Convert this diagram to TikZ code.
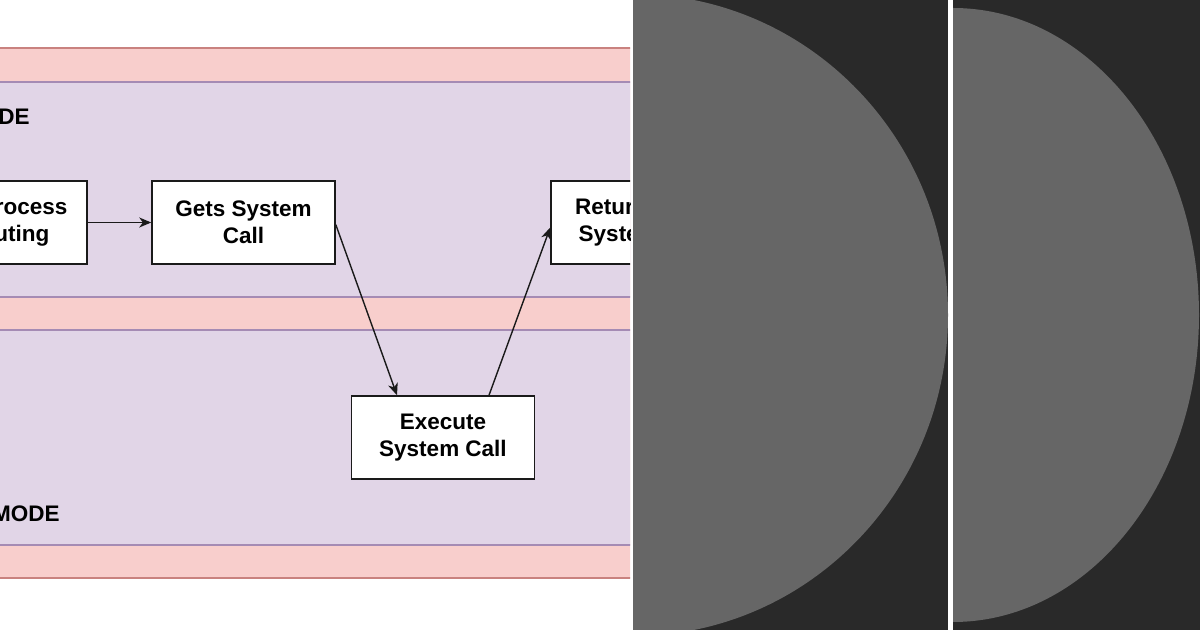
\documentclass[tikz,border=0pt]{standalone}
\usepackage{fontspec}
\setmainfont{Liberation Sans}
\usetikzlibrary{arrows.meta,calc}
\definecolor{pinkfill}{HTML}{F8CECC}
\definecolor{pinkline}{HTML}{C9827F}
\definecolor{purpfill}{HTML}{E1D5E7}
\definecolor{purpline}{HTML}{A58BB4}
\definecolor{darkbg}{HTML}{292929}
\definecolor{discgrey}{HTML}{666666}
\definecolor{edgeline}{HTML}{1A1A1A}
\tikzset{
  band/.style={fill=pinkfill,draw=pinkline,line width=1pt},
  modeband/.style={fill=purpfill,draw=purpline,line width=1pt},
  procbox/.style={draw=edgeline,fill=white,line width=0.75pt,minimum width=91.5pt,minimum height=41.5pt,inner sep=0pt,align=center,font=\fontsize{11.25pt}{13.5pt}\selectfont\bfseries},
  modelabel/.style={anchor=base west,inner sep=0pt,font=\fontsize{11.25pt}{13.5pt}\selectfont\bfseries},
  flow/.style={draw=edgeline,line width=0.7pt,-{Stealth[length=6pt,width=5pt,inset=1.8pt]}},
  darkpanel/.style={fill=darkbg},
  disc/.style={fill=discgrey}
}
\begin{document}
\begin{tikzpicture}[x=0.5pt,y=-0.5pt]
\useasboundingbox (0,0) rectangle (1200,630);
\fill[white] (0,0) rectangle (1200,630);
\begin{scope}
  \clip (0,0) rectangle (630,630);
  \path[band] (-300,48) rectangle (640,578);
  \path[modeband] (-300,82) rectangle (640,297);
  \path[modeband] (-300,330) rectangle (640,545);
  \node[modelabel] (um) at (-107,125) {USER MODE};
  \node[modelabel] (km) at (-107,522) {KERNEL MODE};
  \node[procbox] (user) at (-4.5,222.5) {User Process\\Executing};
  \node[procbox] (gets) at (243.5,222.5) {Gets System\\Call};
  \node[procbox] (exec) at (443,437.5) {Execute\\System Call};
  \node[procbox] (ret) at (642.5,222.5) {Return From\\System Call};
  \draw[flow] (user.east) -- (gets.west);
  \draw[flow] ($(gets.east)+(0,2)$) -- ($(exec.north)+(-46,0)$);
  \draw[flow] ($(exec.north)+(46,0)$) -- ($(ret.west)+(0,5)$);
\end{scope}
\begin{scope}
  \clip (633,0) rectangle (948,630);
  \fill[darkpanel] (633,0) rectangle (948,630);
  \fill[disc] (633,315) ellipse [x radius=315, y radius=321];
\end{scope}
\begin{scope}
  \clip (953,0) rectangle (1200,630);
  \fill[darkpanel] (953,0) rectangle (1200,630);
  \fill[disc] (953,315) ellipse [x radius=246, y radius=307];
\end{scope}
\end{tikzpicture}
\end{document}
